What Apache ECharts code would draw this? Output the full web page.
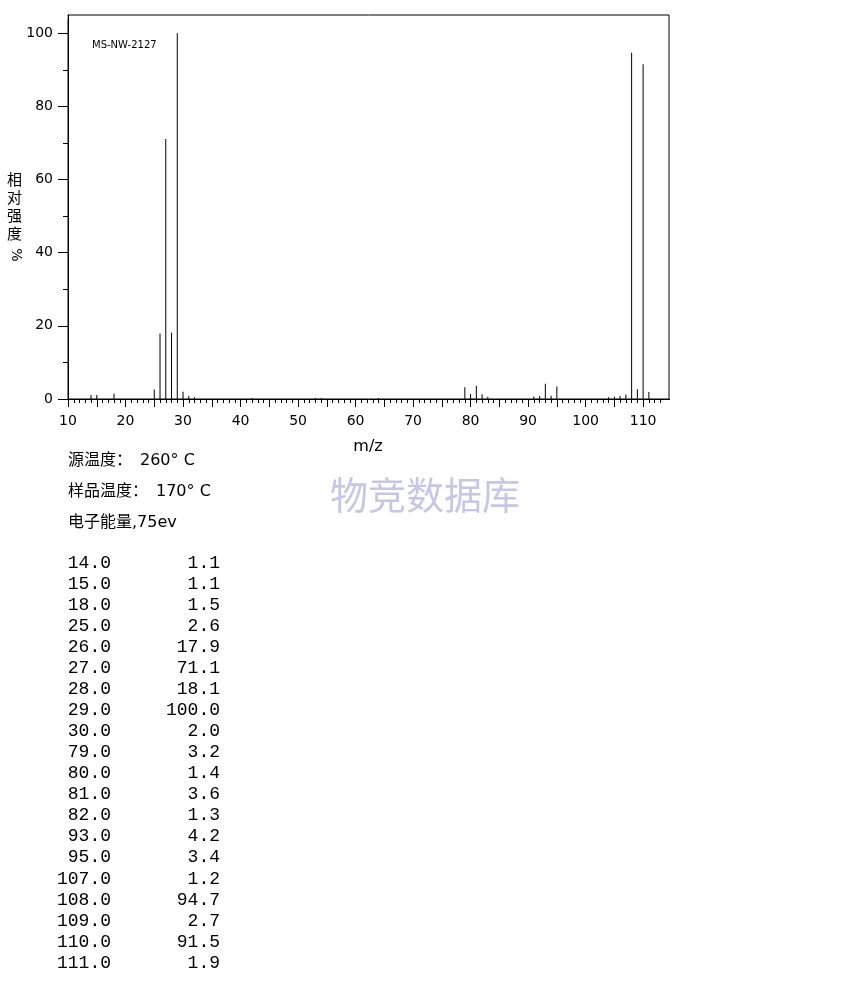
<!DOCTYPE html>
<html>
<head>
<meta charset="utf-8">
<script src="https://cdn.jsdelivr.net/npm/echarts@6/dist/echarts.min.js"></script>
<style>html,body{margin:0;padding:0;background:#fff}#c{width:850px;height:992px}</style>
</head>
<body>
<div id="c"></div>
<script>
// Peaks listed in the table (m/z, relative intensity %)
var mzList = [14, 15, 18, 25, 26, 27, 28, 29, 30, 79, 80, 81, 82, 93, 95, 107, 108, 109, 110, 111];
var intensityList = [1.1, 1.1, 1.5, 2.6, 17.9, 71.1, 18.1, 100.0, 2.0, 3.2, 1.4, 3.6, 1.3, 4.2, 3.4, 1.2, 94.7, 2.7, 91.5, 1.9];
// Small peaks visible in the plot but not in the table (estimated)
var minorMz = [31, 32, 42, 53, 54, 64, 83, 91, 92, 94, 104, 105, 106];
var minorIntensity = [0.8, 0.5, 0.3, 0.3, 0.3, 0.3, 0.6, 0.7, 0.8, 0.9, 0.5, 0.7, 0.8];
var yTicks = [0, 20, 40, 60, 80, 100];
var xTicks = [10, 20, 30, 40, 50, 60, 70, 80, 90, 100, 110];
var infoLabels = ['源温度：', '样品温度：', '电子能量'];
var infoValues = ['260° C', '170° C', ',75ev'];
var sampleId = 'MS-NW-2127';
var watermark = '物竞数据库';

var chart = echarts.init(document.getElementById('c'));
var peaks = [];
for (var i = 0; i < mzList.length; i++) peaks.push([mzList[i], intensityList[i]]);
for (var j = 0; j < minorMz.length; j++) peaks.push([minorMz[j], minorIntensity[j]]);

var graphics = [];
graphics.push({type: 'text', left: 92, top: 40, style: {text: sampleId, font: '10px "DejaVu Sans"', fill: '#000'}});
graphics.push({type: 'text', left: 7, top: 170, style: {text: '相\n对\n强\n度', font: '15px "Noto Sans CJK SC"', lineHeight: 18, fill: '#000'}});
graphics.push({type: 'text', x: 16, y: 255, rotation: -Math.PI / 2, style: {text: '%', font: '14px "DejaVu Sans"', fill: '#000', align: 'center', verticalAlign: 'middle'}});
graphics.push({type: 'text', x: 368, y: 447, style: {text: 'm/z', font: '16px "DejaVu Sans"', fill: '#000', align: 'center', verticalAlign: 'middle'}});
for (var k = 0; k < infoLabels.length; k++) {
  var lbl = infoLabels[k];
  graphics.push({type: 'text', x: 68, y: 459 + k * 31, style: {text: lbl, font: '16px "Noto Sans CJK SC"', fill: '#000', verticalAlign: 'middle'}});
  var endsColon = lbl.charAt(lbl.length - 1) === '：';
  graphics.push({type: 'text', x: 68 + 16 * lbl.length + (endsColon ? 8 : 0), y: 460.5 + k * 31, style: {text: infoValues[k], font: '16px "DejaVu Sans"', fill: '#000', verticalAlign: 'middle'}});
}
graphics.push({type: 'text', x: 425, y: 495, style: {text: watermark, font: '38px "Noto Sans CJK SC"', fill: '#c6c6ea', align: 'center', verticalAlign: 'middle'}});
for (var r = 0; r < mzList.length; r++) {
  graphics.push({type: 'text', x: 111, y: 563 + r * 21.05, style: {text: mzList[r].toFixed(1), font: '18px "Liberation Mono"', fill: '#000', align: 'right', verticalAlign: 'middle'}});
  graphics.push({type: 'text', x: 220, y: 563 + r * 21.05, style: {text: intensityList[r].toFixed(1), font: '18px "Liberation Mono"', fill: '#000', align: 'right', verticalAlign: 'middle'}});
}
// white masks over the automatic end-of-range ticks
graphics.push({type: 'rect', z: 100, shape: {x: 54, y: 10, width: 13.5, height: 9}, style: {fill: '#fff'}});
graphics.push({type: 'rect', z: 100, shape: {x: 665, y: 400, width: 10, height: 10}, style: {fill: '#fff'}});

chart.setOption({
  animation: false,
  backgroundColor: '#fff',
  grid: {left: 68, top: 15, right: 181, bottom: 593, show: true, borderColor: '#000', borderWidth: 1, backgroundColor: 'transparent'},
  xAxis: {
    type: 'value', min: 10, max: 114.5, interval: 5,
    axisLine: {lineStyle: {color: '#000', width: 1}},
    axisTick: {length: 8, lineStyle: {color: '#000'}},
    minorTick: {show: true, splitNumber: 5, length: 4, lineStyle: {color: '#000'}},
    splitLine: {show: false},
    axisLabel: {margin: 15, color: '#000', fontSize: 14, fontFamily: 'DejaVu Sans',
      formatter: function (v) { return xTicks.indexOf(v) >= 0 ? String(v) : ''; }}
  },
  yAxis: {
    type: 'value', min: 0, max: 105, interval: 20,
    axisLine: {show: true, lineStyle: {color: '#000', width: 1}},
    axisTick: {show: true, length: 10, lineStyle: {color: '#000'}},
    minorTick: {show: true, splitNumber: 2, length: 5, lineStyle: {color: '#000'}},
    splitLine: {show: false},
    axisLabel: {margin: 15, color: '#000', fontSize: 14, fontFamily: 'DejaVu Sans',
      formatter: function (v) { return yTicks.indexOf(v) >= 0 ? String(v) : ''; }}
  },
  series: [{
    type: 'bar', data: peaks, barWidth: 1, itemStyle: {color: '#000'}, silent: true
  }],
  graphic: graphics
});
</script>
</body>
</html>
